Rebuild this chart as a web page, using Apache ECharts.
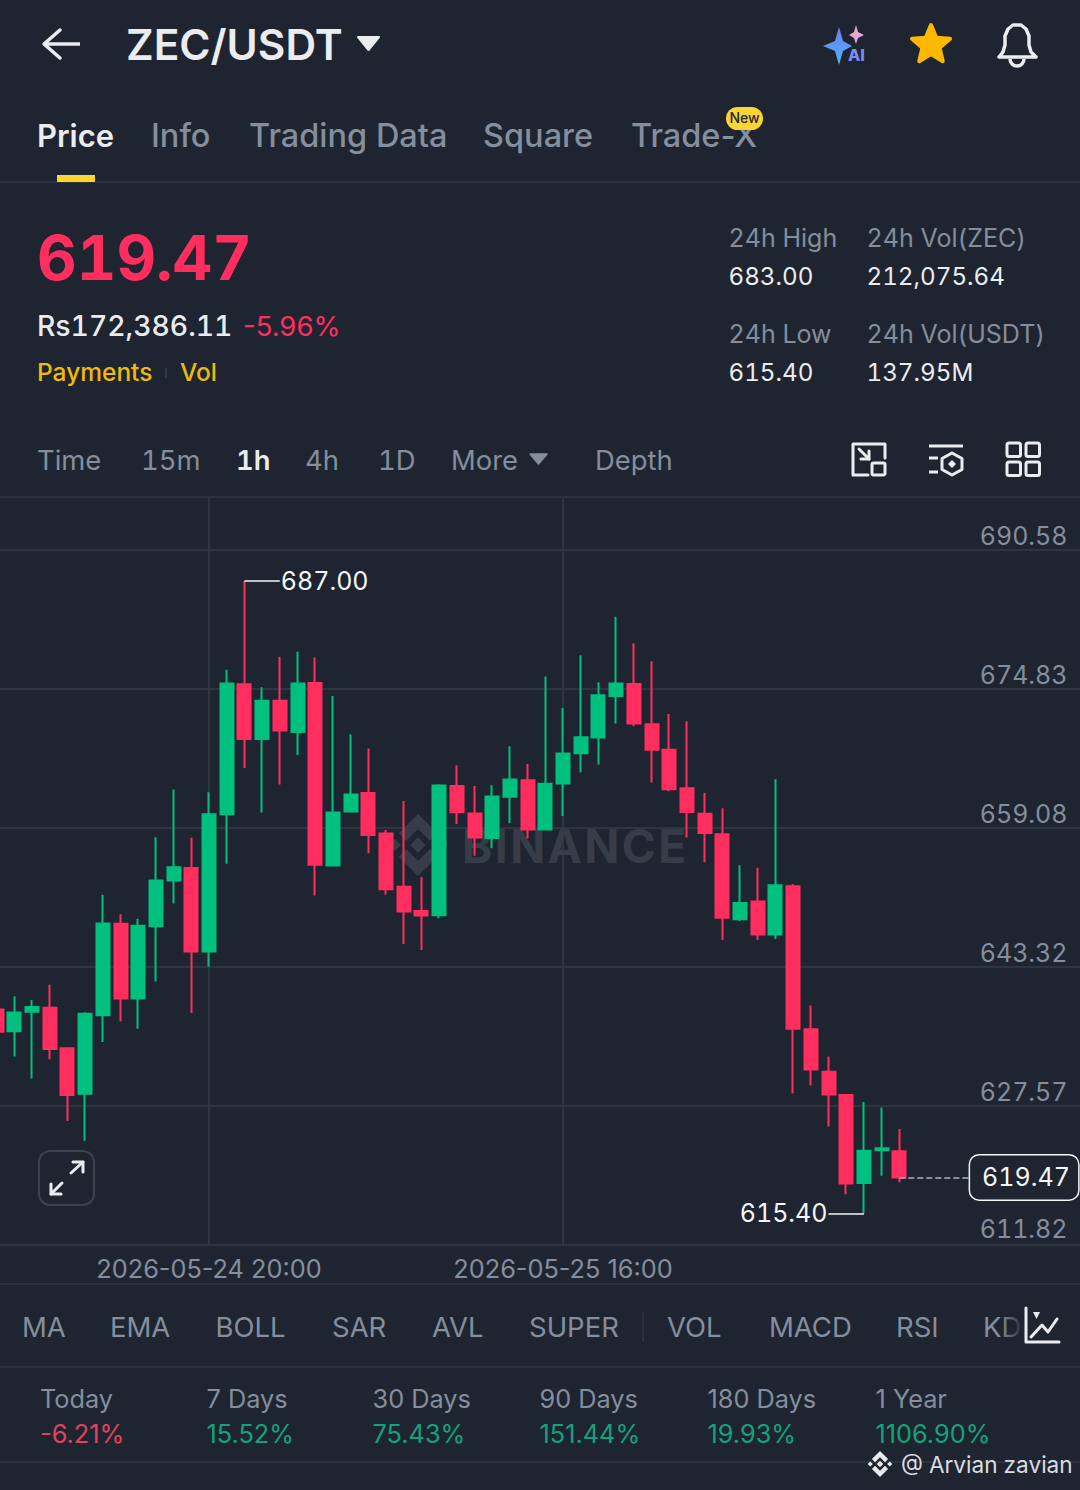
<!DOCTYPE html>
<html><head><meta charset="utf-8">
<style>html,body{margin:0;padding:0;background:#1E2530}#c{width:1080px;height:1490px}
svg text{font-variant-numeric:tabular-nums!important;font-feature-settings:"tnum" 1!important}
svg text[style*="25.3px"],svg text[style*="27.5px"],svg text[style*="32.5px"]{font-variant-numeric:normal!important;font-feature-settings:normal!important}
svg text[style*="46px Inter"]{letter-spacing:2.4px}</style>
<script src="https://cdn.jsdelivr.net/npm/echarts@6/dist/echarts.min.js"></script>
</head><body><div id="c"></div>
<script>
const categories = [
"2026-05-24 08:00","2026-05-24 09:00","2026-05-24 10:00","2026-05-24 11:00","2026-05-24 12:00","2026-05-24 13:00","2026-05-24 14:00","2026-05-24 15:00",
"2026-05-24 16:00","2026-05-24 17:00","2026-05-24 18:00","2026-05-24 19:00","2026-05-24 20:00","2026-05-24 21:00","2026-05-24 22:00","2026-05-24 23:00",
"2026-05-25 00:00","2026-05-25 01:00","2026-05-25 02:00","2026-05-25 03:00","2026-05-25 04:00","2026-05-25 05:00","2026-05-25 06:00","2026-05-25 07:00",
"2026-05-25 08:00","2026-05-25 09:00","2026-05-25 10:00","2026-05-25 11:00","2026-05-25 12:00","2026-05-25 13:00","2026-05-25 14:00","2026-05-25 15:00",
"2026-05-25 16:00","2026-05-25 17:00","2026-05-25 18:00","2026-05-25 19:00","2026-05-25 20:00","2026-05-25 21:00","2026-05-25 22:00","2026-05-25 23:00",
"2026-05-26 00:00","2026-05-26 01:00","2026-05-26 02:00","2026-05-26 03:00","2026-05-26 04:00","2026-05-26 05:00","2026-05-26 06:00","2026-05-26 07:00",
"2026-05-26 08:00","2026-05-26 09:00","2026-05-26 10:00","2026-05-26 11:00",
"","","","","","","","","","",""];
const opens = [638.48,636.01,638.22,638.69,634.10,628.94,637.83,648.18,639.73,647.92,653.08,654.51,645.06,660.58,675.31,669.11,673.44,669.89,675.44,654.78,660.90,663.01,658.40,652.37,649.65,649.16,663.80,660.67,657.91,662.56,664.44,658.86,664.07,667.50,669.27,673.99,675.35,670.78,667.89,663.53,660.64,658.34,648.70,650.71,646.98,652.43,636.26,631.44,628.80,618.83,622.56,622.44];
const closes = [635.96,638.13,638.78,634.01,628.81,638.00,648.23,639.73,647.97,653.08,654.60,645.06,660.58,675.39,669.11,673.44,670.06,675.39,654.86,660.78,662.82,658.25,652.10,649.57,649.12,663.84,660.82,657.95,662.59,664.52,658.86,664.03,667.46,669.31,674.07,675.39,670.86,667.88,663.41,660.85,658.46,648.87,650.55,646.98,652.56,636.30,631.70,628.85,618.79,622.48,622.77,619.47];
const lows = [635.40,633.15,630.68,632.84,625.87,623.61,634.79,637.13,636.31,641.64,650.48,638.09,643.33,654.99,665.82,660.79,663.96,667.29,651.39,654.70,660.80,656.18,651.50,645.91,645.23,648.82,659.50,655.88,656.74,659.57,657.84,658.80,660.40,665.35,666.22,670.86,670.56,664.18,663.20,657.96,655.15,646.36,648.49,646.36,646.48,628.97,629.89,625.24,617.58,615.40,619.67,618.92];
const highs = [639.00,639.99,639.56,641.29,634.19,638.17,651.48,649.27,648.75,657.98,663.39,657.93,663.09,676.95,687.00,674.96,678.43,678.99,678.34,673.99,669.65,668.03,658.82,662.10,653.46,663.99,666.10,663.80,663.88,668.29,666.29,676.18,672.63,678.60,675.54,682.94,679.95,677.92,671.95,671.11,663.03,661.27,654.82,654.53,664.54,652.68,638.94,633.16,628.80,628.01,627.38,624.95];
const yTicks = [611.82,627.57,643.32,659.08,674.83,690.58];
const xTickLabels = ["2026-05-24 20:00","2026-05-25 16:00"];
const lastPrice = 619.47;
const tabs = ["Price","Info","Trading Data","Square","Trade-X"];
const intervals = ["Time","15m","1h","4h","1D","More","Depth"];
const indicators = ["MA","EMA","BOLL","SAR","AVL","SUPER","VOL","MACD","RSI","KD"];
const periods = ["Today","7 Days","30 Days","90 Days","180 Days","1 Year"];
const periodValues = ["-6.21%","15.52%","75.43%","151.44%","19.93%","1106.90%"];
const stats = [["24h High","683.00"],["24h Vol(ZEC)","212,075.64"],["24h Low","615.40"],["24h Vol(USDT)","137.95M"]];

const BG='#1E2530', RED='#FF2E5E', GREEN='#00C07F', GREY='#848E9C', WHITE='#EAECEF', LINE='#2F3742', FF='Inter, "Noto Sans", sans-serif';
const g=[];
const T=(x,y,text,size,fill,weight,align)=>g.push({type:'text',silent:true,x,y:y-1,style:{text,fill,textAlign:align||'left',textVerticalAlign:'middle',font:`${weight||400} ${size}px ${FF}`}});
const L=(x1,y1,x2,y2,stroke,w)=>g.push({type:'line',silent:true,shape:{x1,y1,x2,y2},style:{stroke:stroke||LINE,lineWidth:w||1.5}});
const PL=(pts,stroke,w)=>g.push({type:'polyline',silent:true,shape:{points:pts},style:{stroke:stroke||WHITE,lineWidth:w||3,fill:'none',lineJoin:'round',lineCap:'round'}});
const PG=(pts,fill,stroke,w)=>g.push({type:'polygon',silent:true,shape:{points:pts},style:{fill:fill,stroke:stroke||null,lineWidth:w||0,lineJoin:'round'}});
const RR=(x,y,w,h,r,fill,stroke,lw)=>g.push({type:'rect',silent:true,shape:{x,y,width:w,height:h,r},style:{fill:fill||'none',stroke:stroke||null,lineWidth:lw||0}});
const logo=(cx,cy,s,c)=>{const P=a=>a.map(p=>[cx+p[0]*s,cy+p[1]*s]);
  PG(P([[0,-.25],[.25,0],[0,.25],[-.25,0]]),c);PG(P([[-.75,-.2],[-.55,0],[-.75,.2],[-.95,0]]),c);PG(P([[.75,-.2],[.95,0],[.75,.2],[.55,0]]),c);
  PG(P([[0,-1],[.62,-.38],[.38,-.14],[0,-.52],[-.38,-.14],[-.62,-.38]]),c);PG(P([[0,1],[.62,.38],[.38,.14],[0,.52],[-.38,.14],[-.62,.38]]),c);};

// watermark (under the candles)
logo(418,845,31,'#363D49');
g.push({type:'text',silent:true,x:462,y:846,style:{text:'BINANCE',fill:'#363D49',textVerticalAlign:'middle',font:`700 46px ${FF}`}});

// separators
[182,497,1284,1367,1462].forEach(y=>L(0,y,1080,y));

// header
PL([[60,30],[44,44],[60,58]],WHITE,3.5);L(44,44,80,44,WHITE,3.5);
T(126,45,'ZEC/USDT',42.4,WHITE,600);
PG([[358,37],[379,37],[368.5,50]],WHITE,WHITE,2);
const star=(cx,cy,R,r)=>{const a=[];for(let i=0;i<10;i++){const t=-Math.PI/2+i*Math.PI/5,q=i%2?r:R;a.push([cx+q*Math.cos(t),cy+q*Math.sin(t)]);}return a;};
PG(star(931,45,20,9),'#FFB800','#FFB800',4);
PG([[839,27],[843,41],[852,46],[843,51],[839,65],[835,51],[823,46],[835,41]],new echarts.graphic.LinearGradient(0,0,0,1,[{offset:0,color:'#6C7BF5'},{offset:1,color:'#4FB4F5'}]));
PG([[856,25],[858,32],[864,35],[858,38],[856,44],[854,38],[849,35],[854,32]],'#E7A6D6');
T(848,56,'AI',16,'#7C8CF5',800);
PL([[999,57],[1003,52],[1005,45],[1005,36],[1008,29],[1013,25],[1021,25],[1026,29],[1029,36],[1029,45],[1031,52],[1036,57],[999,57]],WHITE,3.5);
g.push({type:'arc',silent:true,shape:{cx:1017,cy:59,r:7,startAngle:0,endAngle:Math.PI},style:{stroke:WHITE,lineWidth:3.5,fill:'none'}});

// tabs
const tabX=[37,151,249,483,631];
tabs.forEach((t,i)=>T(tabX[i],136,t,i?32.5:31,i?GREY:WHITE,i?500:600));
RR(57,175,38,7,0,'#FCD535');
RR(726,107,37,23,11.5,'#FCD535');
T(744.5,118.5,'New',14,'#1E2530',500,'center');

// price block
T(37,259,'619.47',61.4,RED,700);
T(37,327,'Rs172,386.11',28.3,WHITE,500);
T(243,327,'-5.96%',27.5,RED,400);
T(37,373,'Payments',24.5,'#F0B90B',500);
L(166,368,166,378,'#3a424e',1.5);
T(180,373,'Vol',24.5,'#F0B90B',500);
const statX=[728.5,866.5,728.5,866.5],statY=[239,239,335,335];
stats.forEach((s,i)=>{T(statX[i],statY[i],s[0],25,GREY);T(statX[i],statY[i]+38,s[1],24.2,WHITE);});

// interval toolbar
const intX=[37,141,236,305,378,451,595];
intervals.forEach((t,i)=>T(intX[i],461,t,27.4,t==='1h'?WHITE:GREY,t==='1h'?600:400));
PG([[530,454],[547,454],[538.5,464]],GREY,GREY,1.5);
PL([[868,475],[853,475],[853,444],[885,444],[885,458]],WHITE,3);RR(872,463,13,12,1.5,'none',WHITE,3);PL([[859,449],[869,459]],WHITE,3);PL([[869,451],[869,459],[861,459]],WHITE,3);
L(929,446,963,446,WHITE,3);L(929,458,938,458,WHITE,3);L(929,472,938,472,WHITE,3);
PL([[952,453],[962,458.5],[962,469.5],[952,475],[942,469.5],[942,458.5],[952,453]],WHITE,3);PG([[952,460],[956,464],[952,468],[948,464]],WHITE);
[[1007,443],[1026,443],[1007,462],[1026,462]].forEach(p=>RR(p[0],p[1],13.5,13.5,2,'none',WHITE,3));

// expand button
RR(39,1151,55,54,11,'none','#3A424E',2);
PL([[51,1194],[62,1183]],WHITE,3);PL([[51,1184],[51,1194],[61,1194]],WHITE,3);
PL([[71,1173],[83,1162]],WHITE,3);PL([[73,1162],[83,1162],[83,1172]],WHITE,3);

// indicator strip
const indX=[22,110,215.5,332,432,529,667,769,896,983];
indicators.forEach((t,i)=>T(indX[i],1328,t,27.5,GREY));
L(643,1312,643,1342,'#2F3742',1.5);
RR(1000,1300,25,55,0,new echarts.graphic.LinearGradient(0,0,1,0,[{offset:0,color:'rgba(30,37,48,0)'},{offset:1,color:BG}]));
RR(1025,1300,55,55,0,BG);
PL([[1026,1308],[1026,1342],[1059,1342]],WHITE,3);PL([[1031,1337],[1042,1325],[1048,1332],[1057,1319]],WHITE,3);PG([[1033,1312],[1040,1312],[1036.5,1319]],WHITE);

// period performance
const perX=[40,206.5,372.5,539.5,707.5,875.5];
periods.forEach((t,i)=>{T(perX[i],1399,t,25.3,GREY);T(perX[i],1434,periodValues[i],25.3,periodValues[i][0]==='-'?'#E0435F':'#12A37B');});

// footer mark
logo(880,1464,13,'#E6E8EA');
T(901,1465,'@ Arvian zavian',22.6,'#D9DCE0');

const candles = opens.map((o,i)=>[o,closes[i],lows[i],highs[i]]);
const hi=Math.max(...highs), lo=Math.min(...lows), hiI=highs.indexOf(hi), loI=lows.indexOf(lo), lastI=opens.length-1;
const labelStyle={color:'#F5F6F7',fontSize:25,fontFamily:FF};

const chart=echarts.init(document.getElementById('c'),null,{renderer:'svg',width:1080,height:1490});
chart.setOption({
  backgroundColor:BG,animation:false,
  grid:{left:-3.4,top:497,width:1097.4,height:748,containLabel:false,outerBoundsMode:'none'},
  xAxis:{type:'category',data:categories,boundaryGap:false,
    axisLine:{show:false},axisTick:{show:false},
    axisLabel:{interval:(i,v)=>xTickLabels.includes(v),color:GREY,fontSize:25.3,fontFamily:FF,margin:10.5,hideOverlap:false},
    splitLine:{show:true,interval:(i,v)=>xTickLabels.includes(v),lineStyle:{color:'#333B47',width:1.5}}},
  yAxis:{type:'value',position:'right',min:611.82,max:696.51,scale:true,
    axisLine:{show:false},axisTick:{show:false,customValues:yTicks},
    axisLabel:{inside:true,customValues:yTicks,margin:26.5,verticalAlign:'bottom',color:GREY,fontSize:25,fontFamily:FF,
      formatter:v=>v===yTicks[0]?`{m|${v.toFixed(2)}}`:`{n|${v.toFixed(2)}}`,
      rich:{m:{color:GREY,fontSize:25,fontFamily:FF,padding:[0,0,4,0]},n:{color:GREY,fontSize:25,fontFamily:FF,padding:[0,0,1,0]}}},
    splitLine:{show:true,lineStyle:{color:'#333B47',width:1.5}}},
  series:[{type:'candlestick',data:candles,barWidth:13.5,
    itemStyle:{color:GREEN,color0:RED,borderColor:GREEN,borderColor0:RED,borderWidth:2},
    markLine:{silent:true,symbol:['none','none'],animation:false,
      data:[
        [{coord:[hiI,hi],lineStyle:{color:'#F5F6F7',width:1.5,type:'solid'},label:{show:true,position:'end',distance:1,formatter:hi.toFixed(2),...labelStyle}},{coord:[hiI+2,hi]}],
        [{coord:[loI,lo],lineStyle:{color:'#F5F6F7',width:1.5,type:'solid'},label:{show:true,position:'end',distance:1,formatter:lo.toFixed(2),...labelStyle}},{coord:[loI-2,lo]}],
        [{coord:[lastI,lastPrice],lineStyle:{color:'#AEB4BC',width:1.5,type:'dashed'},label:{show:true,position:'end',distance:0,formatter:lastPrice.toFixed(2),...labelStyle,backgroundColor:BG,borderColor:'#F5F6F7',borderWidth:1.5,borderRadius:9,padding:[10,18,9,12]}},{coord:[lastI+4,lastPrice]}]
      ]}}],
  graphic:{elements:g}
});
</script></body></html>
